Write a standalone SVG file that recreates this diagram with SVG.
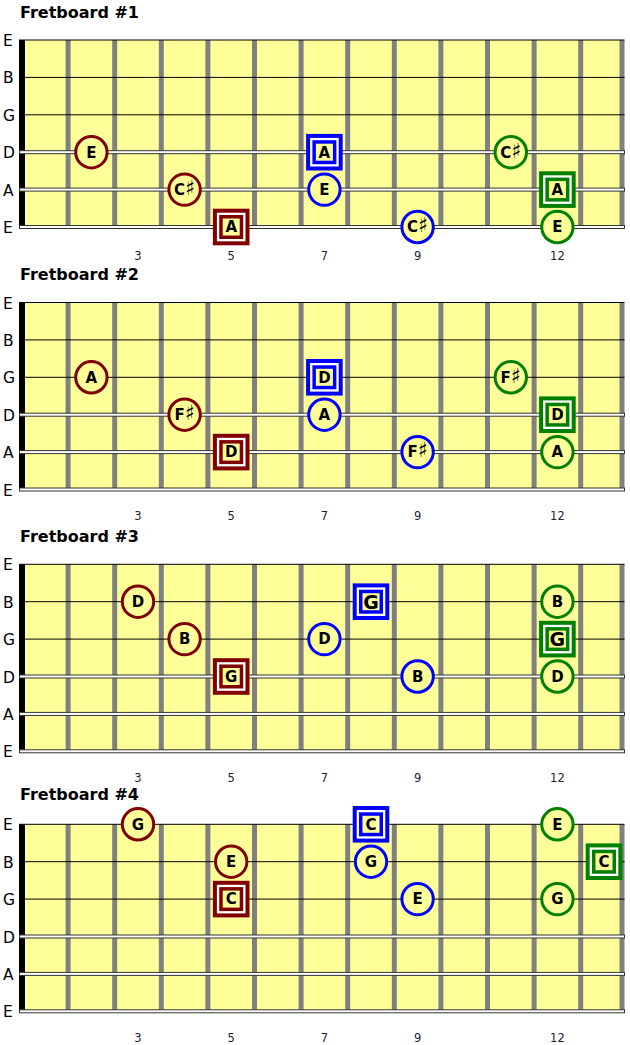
<svg xmlns="http://www.w3.org/2000/svg" xmlns:xlink="http://www.w3.org/1999/xlink" width="630" height="1045" viewBox="0 0 630 1045">
<style>
.bg{fill:#ffff99}
.nut{fill:#000}
.fret{fill:#808080}
.s1{stroke:#000;stroke-width:1}
.s2{fill:#fff;stroke:#333;stroke-width:1}
text{font-family:"DejaVu Sans",Verdana,sans-serif}
.title{font-size:16px;font-weight:bold;fill:#000}
.lbl{font-size:15.5px;fill:#000}
.fn{font-size:11.5px;fill:#223;text-anchor:middle}
.nt{font-size:15px;font-weight:bold;fill:#000;text-anchor:middle}
.sh{font-size:21px;font-weight:bold}
.big{font-size:19px}
.note circle{fill:#ffff99;stroke-width:3}
.box .o{fill:#fff;stroke-width:4}
.box .i{fill:#ffff99;stroke-width:3.5}
.red circle,.red rect{stroke:#800000}
.blue circle,.blue rect{stroke:#0000ff}
.green circle,.green rect{stroke:#008000}
</style>
<defs>
<g id="board">
<rect class="bg" x="25" y="0" width="595" height="187"/>
<rect class="nut" x="19" y="0" width="6" height="187"/>
<rect class="fret" x="65.6" y="0" width="5" height="187"/>
<rect class="fret" x="112.2" y="0" width="5" height="187"/>
<rect class="fret" x="158.8" y="0" width="5" height="187"/>
<rect class="fret" x="205.4" y="0" width="5" height="187"/>
<rect class="fret" x="252" y="0" width="5" height="187"/>
<rect class="fret" x="298.6" y="0" width="5" height="187"/>
<rect class="fret" x="345.2" y="0" width="5" height="187"/>
<rect class="fret" x="391.8" y="0" width="5" height="187"/>
<rect class="fret" x="438.4" y="0" width="5" height="187"/>
<rect class="fret" x="485" y="0" width="5" height="187"/>
<rect class="fret" x="531.6" y="0" width="5" height="187"/>
<rect class="fret" x="578.2" y="0" width="5" height="187"/>
<rect class="fret" x="619.5" y="0" width="5" height="187"/>
<line class="s1" x1="19" y1="0" x2="624.5" y2="0"/>
<line class="s1" x1="19" y1="37.4" x2="624.5" y2="37.4"/>
<line class="s1" x1="19" y1="74.8" x2="624.5" y2="74.8"/>
<rect class="s2" x="19.5" y="110.7" width="605" height="3"/>
<rect class="s2" x="19.5" y="148.1" width="605" height="3"/>
<rect class="s2" x="19.5" y="185.5" width="605" height="3"/>
</g>
</defs>

<!-- Fretboard 1 -->
<g id="fretboard1">
<text class="title" x="20" y="17.7">Fretboard #1</text>
<use xlink:href="#board" href="#board" transform="translate(0,40)"/>
<text class="lbl" x="3" y="46">E</text>
<text class="lbl" x="3" y="83.4">B</text>
<text class="lbl" x="3" y="120.8">G</text>
<text class="lbl" x="3" y="158.2">D</text>
<text class="lbl" x="3" y="195.6">A</text>
<text class="lbl" x="3" y="233">E</text>
<text class="fn" x="138" y="260">3</text>
<text class="fn" x="231.2" y="260">5</text>
<text class="fn" x="324.4" y="260">7</text>
<text class="fn" x="417.6" y="260">9</text>
<text class="fn" x="557.4" y="260">12</text>
</g>
<g id="fb1-n1" class="note red"><circle cx="91.4" cy="152.2" r="15.7"/><text class="nt" x="91.4" y="157.5">E</text></g>
<g id="fb1-n2" class="note red"><circle cx="184.6" cy="189.6" r="15.7"/><text class="nt" x="184.6" y="194.9">C<tspan class="sh">♯</tspan></text></g>
<g id="fb1-n3" class="box red"><rect class="o" x="214.9" y="210.7" width="32.6" height="32.6"/><rect class="i" x="220.95" y="216.75" width="20.5" height="20.5"/><text class="nt" x="231.2" y="232.3">A</text></g>
<g id="fb1-n4" class="box blue"><rect class="o" x="308.1" y="135.9" width="32.6" height="32.6"/><rect class="i" x="314.15" y="141.95" width="20.5" height="20.5"/><text class="nt" x="324.4" y="157.5">A</text></g>
<g id="fb1-n5" class="note blue"><circle cx="324.4" cy="189.6" r="15.7"/><text class="nt" x="324.4" y="194.9">E</text></g>
<g id="fb1-n6" class="note blue"><circle cx="417.6" cy="227" r="15.7"/><text class="nt" x="417.6" y="232.3">C<tspan class="sh">♯</tspan></text></g>
<g id="fb1-n7" class="note green"><circle cx="510.8" cy="152.2" r="15.7"/><text class="nt" x="510.8" y="157.5">C<tspan class="sh">♯</tspan></text></g>
<g id="fb1-n8" class="box green"><rect class="o" x="541.1" y="173.3" width="32.6" height="32.6"/><rect class="i" x="547.15" y="179.35" width="20.5" height="20.5"/><text class="nt" x="557.4" y="194.9">A</text></g>
<g id="fb1-n9" class="note green"><circle cx="557.4" cy="227" r="15.7"/><text class="nt" x="557.4" y="232.3">E</text></g>

<!-- Fretboard 2 -->
<g id="fretboard2">
<text class="title" x="20" y="280">Fretboard #2</text>
<use xlink:href="#board" href="#board" transform="translate(0,302.5)"/>
<text class="lbl" x="3" y="308.5">E</text>
<text class="lbl" x="3" y="345.9">B</text>
<text class="lbl" x="3" y="383.3">G</text>
<text class="lbl" x="3" y="420.7">D</text>
<text class="lbl" x="3" y="458.1">A</text>
<text class="lbl" x="3" y="495.5">E</text>
<text class="fn" x="138" y="520">3</text>
<text class="fn" x="231.2" y="520">5</text>
<text class="fn" x="324.4" y="520">7</text>
<text class="fn" x="417.6" y="520">9</text>
<text class="fn" x="557.4" y="520">12</text>
</g>
<g id="fb2-n1" class="note red"><circle cx="91.4" cy="377.3" r="15.7"/><text class="nt" x="91.4" y="382.6">A</text></g>
<g id="fb2-n2" class="note red"><circle cx="184.6" cy="414.7" r="15.7"/><text class="nt" x="184.6" y="420">F<tspan class="sh">♯</tspan></text></g>
<g id="fb2-n3" class="box red"><rect class="o" x="214.9" y="435.8" width="32.6" height="32.6"/><rect class="i" x="220.95" y="441.85" width="20.5" height="20.5"/><text class="nt" x="231.2" y="457.4">D</text></g>
<g id="fb2-n4" class="box blue"><rect class="o" x="308.1" y="361" width="32.6" height="32.6"/><rect class="i" x="314.15" y="367.05" width="20.5" height="20.5"/><text class="nt" x="324.4" y="382.6">D</text></g>
<g id="fb2-n5" class="note blue"><circle cx="324.4" cy="414.7" r="15.7"/><text class="nt" x="324.4" y="420">A</text></g>
<g id="fb2-n6" class="note blue"><circle cx="417.6" cy="452.1" r="15.7"/><text class="nt" x="417.6" y="457.4">F<tspan class="sh">♯</tspan></text></g>
<g id="fb2-n7" class="note green"><circle cx="510.8" cy="377.3" r="15.7"/><text class="nt" x="510.8" y="382.6">F<tspan class="sh">♯</tspan></text></g>
<g id="fb2-n8" class="box green"><rect class="o" x="541.1" y="398.4" width="32.6" height="32.6"/><rect class="i" x="547.15" y="404.45" width="20.5" height="20.5"/><text class="nt" x="557.4" y="420">D</text></g>
<g id="fb2-n9" class="note green"><circle cx="557.4" cy="452.1" r="15.7"/><text class="nt" x="557.4" y="457.4">A</text></g>

<!-- Fretboard 3 -->
<g id="fretboard3">
<text class="title" x="20" y="541.8">Fretboard #3</text>
<use xlink:href="#board" href="#board" transform="translate(0,564.3)"/>
<text class="lbl" x="3" y="570.3">E</text>
<text class="lbl" x="3" y="607.7">B</text>
<text class="lbl" x="3" y="645.1">G</text>
<text class="lbl" x="3" y="682.5">D</text>
<text class="lbl" x="3" y="719.9">A</text>
<text class="lbl" x="3" y="757.3">E</text>
<text class="fn" x="138" y="781.5">3</text>
<text class="fn" x="231.2" y="781.5">5</text>
<text class="fn" x="324.4" y="781.5">7</text>
<text class="fn" x="417.6" y="781.5">9</text>
<text class="fn" x="557.4" y="781.5">12</text>
</g>
<g id="fb3-n1" class="note red"><circle cx="138" cy="601.7" r="15.7"/><text class="nt" x="138" y="607">D</text></g>
<g id="fb3-n2" class="note red"><circle cx="184.6" cy="639.1" r="15.7"/><text class="nt" x="184.6" y="644.4">B</text></g>
<g id="fb3-n3" class="box red"><rect class="o" x="214.9" y="660.2" width="32.6" height="32.6"/><rect class="i" x="220.95" y="666.25" width="20.5" height="20.5"/><text class="nt" x="231.2" y="681.8">G</text></g>
<g id="fb3-n4" class="box blue"><rect class="o" x="354.7" y="585.4" width="32.6" height="32.6"/><rect class="i" x="360.75" y="591.45" width="20.5" height="20.5"/><text class="nt big" x="371" y="608.5">G</text></g>
<g id="fb3-n5" class="note blue"><circle cx="324.4" cy="639.1" r="15.7"/><text class="nt" x="324.4" y="644.4">D</text></g>
<g id="fb3-n6" class="note blue"><circle cx="417.6" cy="676.5" r="15.7"/><text class="nt" x="417.6" y="681.8">B</text></g>
<g id="fb3-n7" class="note green"><circle cx="557.4" cy="601.7" r="15.7"/><text class="nt" x="557.4" y="607">B</text></g>
<g id="fb3-n8" class="box green"><rect class="o" x="541.1" y="622.8" width="32.6" height="32.6"/><rect class="i" x="547.15" y="628.85" width="20.5" height="20.5"/><text class="nt big" x="557.4" y="645.9">G</text></g>
<g id="fb3-n9" class="note green"><circle cx="557.4" cy="676.5" r="15.7"/><text class="nt" x="557.4" y="681.8">D</text></g>

<!-- Fretboard 4 -->
<g id="fretboard4">
<text class="title" x="20" y="800">Fretboard #4</text>
<use xlink:href="#board" href="#board" transform="translate(0,824.3)"/>
<text class="lbl" x="3" y="830.3">E</text>
<text class="lbl" x="3" y="867.7">B</text>
<text class="lbl" x="3" y="905.1">G</text>
<text class="lbl" x="3" y="942.5">D</text>
<text class="lbl" x="3" y="979.9">A</text>
<text class="lbl" x="3" y="1017.3">E</text>
<text class="fn" x="138" y="1041.5">3</text>
<text class="fn" x="231.2" y="1041.5">5</text>
<text class="fn" x="324.4" y="1041.5">7</text>
<text class="fn" x="417.6" y="1041.5">9</text>
<text class="fn" x="557.4" y="1041.5">12</text>
</g>
<g id="fb4-n1" class="note red"><circle cx="138" cy="824.3" r="15.7"/><text class="nt" x="138" y="829.6">G</text></g>
<g id="fb4-n2" class="note red"><circle cx="231.2" cy="861.7" r="15.7"/><text class="nt" x="231.2" y="867">E</text></g>
<g id="fb4-n3" class="box red"><rect class="o" x="214.9" y="882.8" width="32.6" height="32.6"/><rect class="i" x="220.95" y="888.85" width="20.5" height="20.5"/><text class="nt" x="231.2" y="904.4">C</text></g>
<g id="fb4-n4" class="box blue"><rect class="o" x="354.7" y="808" width="32.6" height="32.6"/><rect class="i" x="360.75" y="814.05" width="20.5" height="20.5"/><text class="nt" x="371" y="829.6">C</text></g>
<g id="fb4-n5" class="note blue"><circle cx="371" cy="861.7" r="15.7"/><text class="nt" x="371" y="867">G</text></g>
<g id="fb4-n6" class="note blue"><circle cx="417.6" cy="899.1" r="15.7"/><text class="nt" x="417.6" y="904.4">E</text></g>
<g id="fb4-n7" class="note green"><circle cx="557.4" cy="824.3" r="15.7"/><text class="nt" x="557.4" y="829.6">E</text></g>
<g id="fb4-n8" class="box green"><rect class="o" x="587.7" y="845.4" width="32.6" height="32.6"/><rect class="i" x="593.75" y="851.45" width="20.5" height="20.5"/><text class="nt" x="604" y="867">C</text></g>
<g id="fb4-n9" class="note green"><circle cx="557.4" cy="899.1" r="15.7"/><text class="nt" x="557.4" y="904.4">G</text></g>
<g id="connectors"/>
</svg>
